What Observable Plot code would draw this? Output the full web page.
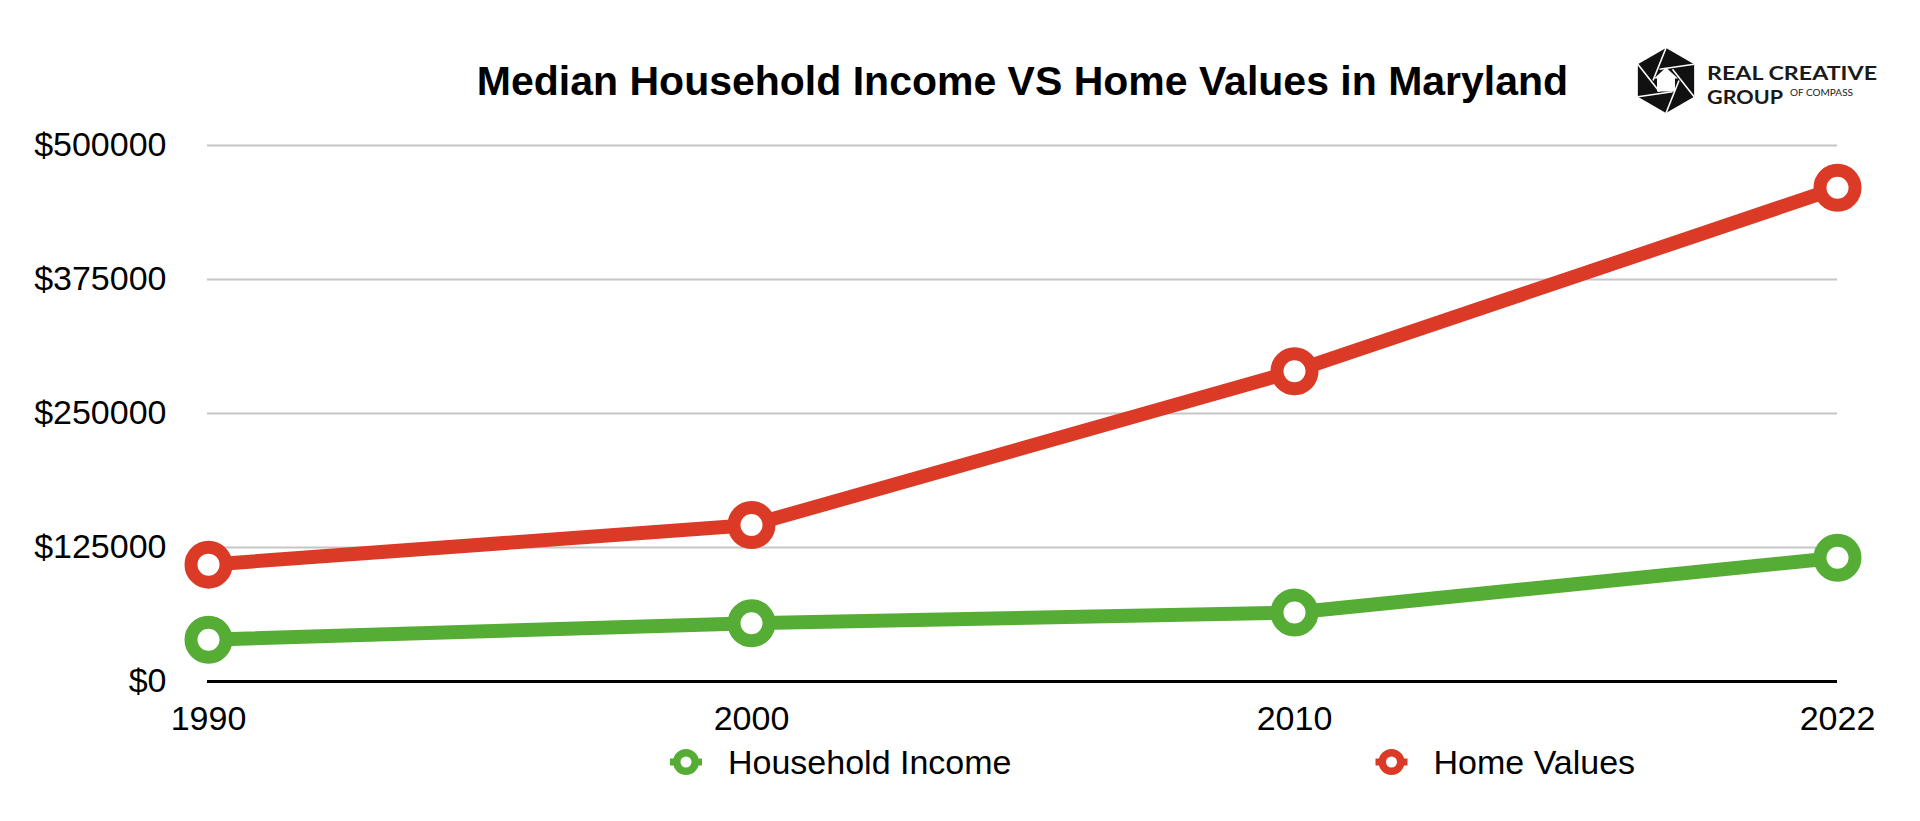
<!DOCTYPE html>
<html>
<head>
<meta charset="utf-8">
<script src="https://cdn.jsdelivr.net/npm/d3@7"></script>
<script src="https://cdn.jsdelivr.net/npm/@observablehq/plot@0.6"></script>
<style>
  html, body { margin: 0; padding: 0; background: #fff; }
  #wrap { position: relative; width: 1920px; height: 821px; overflow: hidden; background: #fff; }
  #chart { position: absolute; left: 0; top: 110px; }
  #overlay { position: absolute; left: 0; top: 0; pointer-events: none; }
</style>
</head>
<body>
<div id="wrap">
  <div id="chart"></div>
  <svg id="overlay" width="1920" height="821"></svg>
</div>
<script>
// ---- data ----
const years = ["1990", "2000", "2010", "2022"];
const seriesNames = ["Household Income", "Home Values"];
const householdIncome = [39000, 54400, 64400, 115400];
const homeValues = [109000, 146000, 289500, 460500];
const seriesColors = ["#55ad35", "#db3a27"];
const yTicks = [0, 125000, 250000, 375000, 500000];
const titleText = "Median Household Income VS Home Values in Maryland";

const rows = [];
years.forEach((yr, i) => rows.push({year: yr, value: householdIncome[i], series: seriesNames[0]}));
years.forEach((yr, i) => rows.push({year: yr, value: homeValues[i], series: seriesNames[1]}));

const font = "'Liberation Sans', Arial, Helvetica, sans-serif";

const chart = Plot.plot({
  width: 1920,
  height: 640,
  marginLeft: 207,
  marginRight: 83,
  marginTop: 35,
  marginBottom: 69,
  style: {fontFamily: font, fontSize: "34px", color: "#000", background: "transparent", overflow: "visible"},
  x: {type: "point", domain: years, padding: 0, label: null},
  y: {domain: [0, 500000], label: null, axis: null},
  color: {domain: seriesNames, range: seriesColors},
  marks: [
    Plot.gridY(yTicks, {stroke: "#c6c6c6", strokeOpacity: 1, strokeWidth: 2}),
    Plot.text(yTicks, {y: d => d, text: d => "$" + d, frameAnchor: "left", textAnchor: "end", dx: -41, fontSize: 34, fill: "#000"}),
    Plot.axisX({tickSize: 0, tickPadding: 24, fontSize: 34, label: null}),
    Plot.ruleY([0], {stroke: "#000", strokeWidth: 3}),
    Plot.line(rows, {x: "year", y: "value", z: "series", stroke: "series", strokeWidth: 14}),
    Plot.dot(rows, {x: "year", y: "value", stroke: "series", fill: "white", r: 17.5, strokeWidth: 13})
  ]
});
document.getElementById("chart").appendChild(chart);

// ---- overlay: title, logo, legend ----
const ov = d3.select("#overlay");
ov.append("text")
  .attr("x", 1022.5).attr("y", 95)
  .attr("text-anchor", "middle")
  .attr("font-family", font).attr("font-weight", "bold").attr("font-size", 41)
  .attr("fill", "#000")
  .text(titleText);

// logo
const lg = ov.append("g");
const cx = 1666, cy = 80.5, R = 32.5;
const hex = d3.range(6).map(k => {
  const a = Math.PI / 180 * (60 * k - 90);
  return [cx + R * Math.cos(a), cy + R * Math.sin(a)];
});
lg.append("polygon").attr("points", hex.map(p => p.join(",")).join(" ")).attr("fill", "#111");
const inner = d3.range(6).map(k => {
  const a = Math.PI / 180 * (60 * k - 60);
  return [cx + 13 * Math.cos(a), cy + 13 * Math.sin(a)];
});
inner.forEach((p, k) => {
  const q = hex[(k + 2) % 6];
  lg.append("line").attr("x1", p[0]).attr("y1", p[1]).attr("x2", q[0]).attr("y2", q[1])
    .attr("stroke", "#fff").attr("stroke-width", 1.6);
});
lg.append("polygon")
  .attr("points", [[cx, cy - 13], [cx + 12, cy - 2], [cx + 9, cy - 2], [cx + 9, cy + 11], [cx - 9, cy + 11], [cx - 9, cy - 2], [cx - 12, cy - 2]].map(p => p.join(",")).join(" "))
  .attr("fill", "#fff");
const logoFont = "Lato, 'Open Sans', sans-serif";
lg.append("text").attr("x", 1707).attr("y", 80).attr("font-family", logoFont).attr("font-weight", 700)
  .attr("font-size", 19.5).attr("fill", "#1a1a1a").attr("textLength", 170).attr("lengthAdjust", "spacingAndGlyphs")
  .text("REAL CREATIVE");
lg.append("text").attr("x", 1707).attr("y", 104).attr("font-family", logoFont).attr("font-weight", 700)
  .attr("font-size", 19.5).attr("fill", "#1a1a1a").attr("textLength", 76).attr("lengthAdjust", "spacingAndGlyphs")
  .text("GROUP");
lg.append("text").attr("x", 1790).attr("y", 96).attr("font-family", logoFont).attr("font-weight", 400)
  .attr("font-size", 9).attr("fill", "#1a1a1a").attr("textLength", 63).attr("lengthAdjust", "spacingAndGlyphs")
  .text("OF COMPASS");

// legend
const legendX = [686, 1391.5];
const legendY = 762;
seriesNames.forEach((name, i) => {
  const g = ov.append("g");
  const x0 = legendX[i];
  g.append("line").attr("x1", x0 - 16).attr("x2", x0 + 16).attr("y1", legendY).attr("y2", legendY)
    .attr("stroke", seriesColors[i]).attr("stroke-width", 7);
  g.append("circle").attr("cx", x0).attr("cy", legendY).attr("r", 9.25)
    .attr("fill", "#fff").attr("stroke", seriesColors[i]).attr("stroke-width", 7.5);
  g.append("text").attr("x", x0 + 42).attr("y", 774)
    .attr("font-family", font).attr("font-size", 34).attr("fill", "#000")
    .text(name);
});
</script>
</body>
</html>
